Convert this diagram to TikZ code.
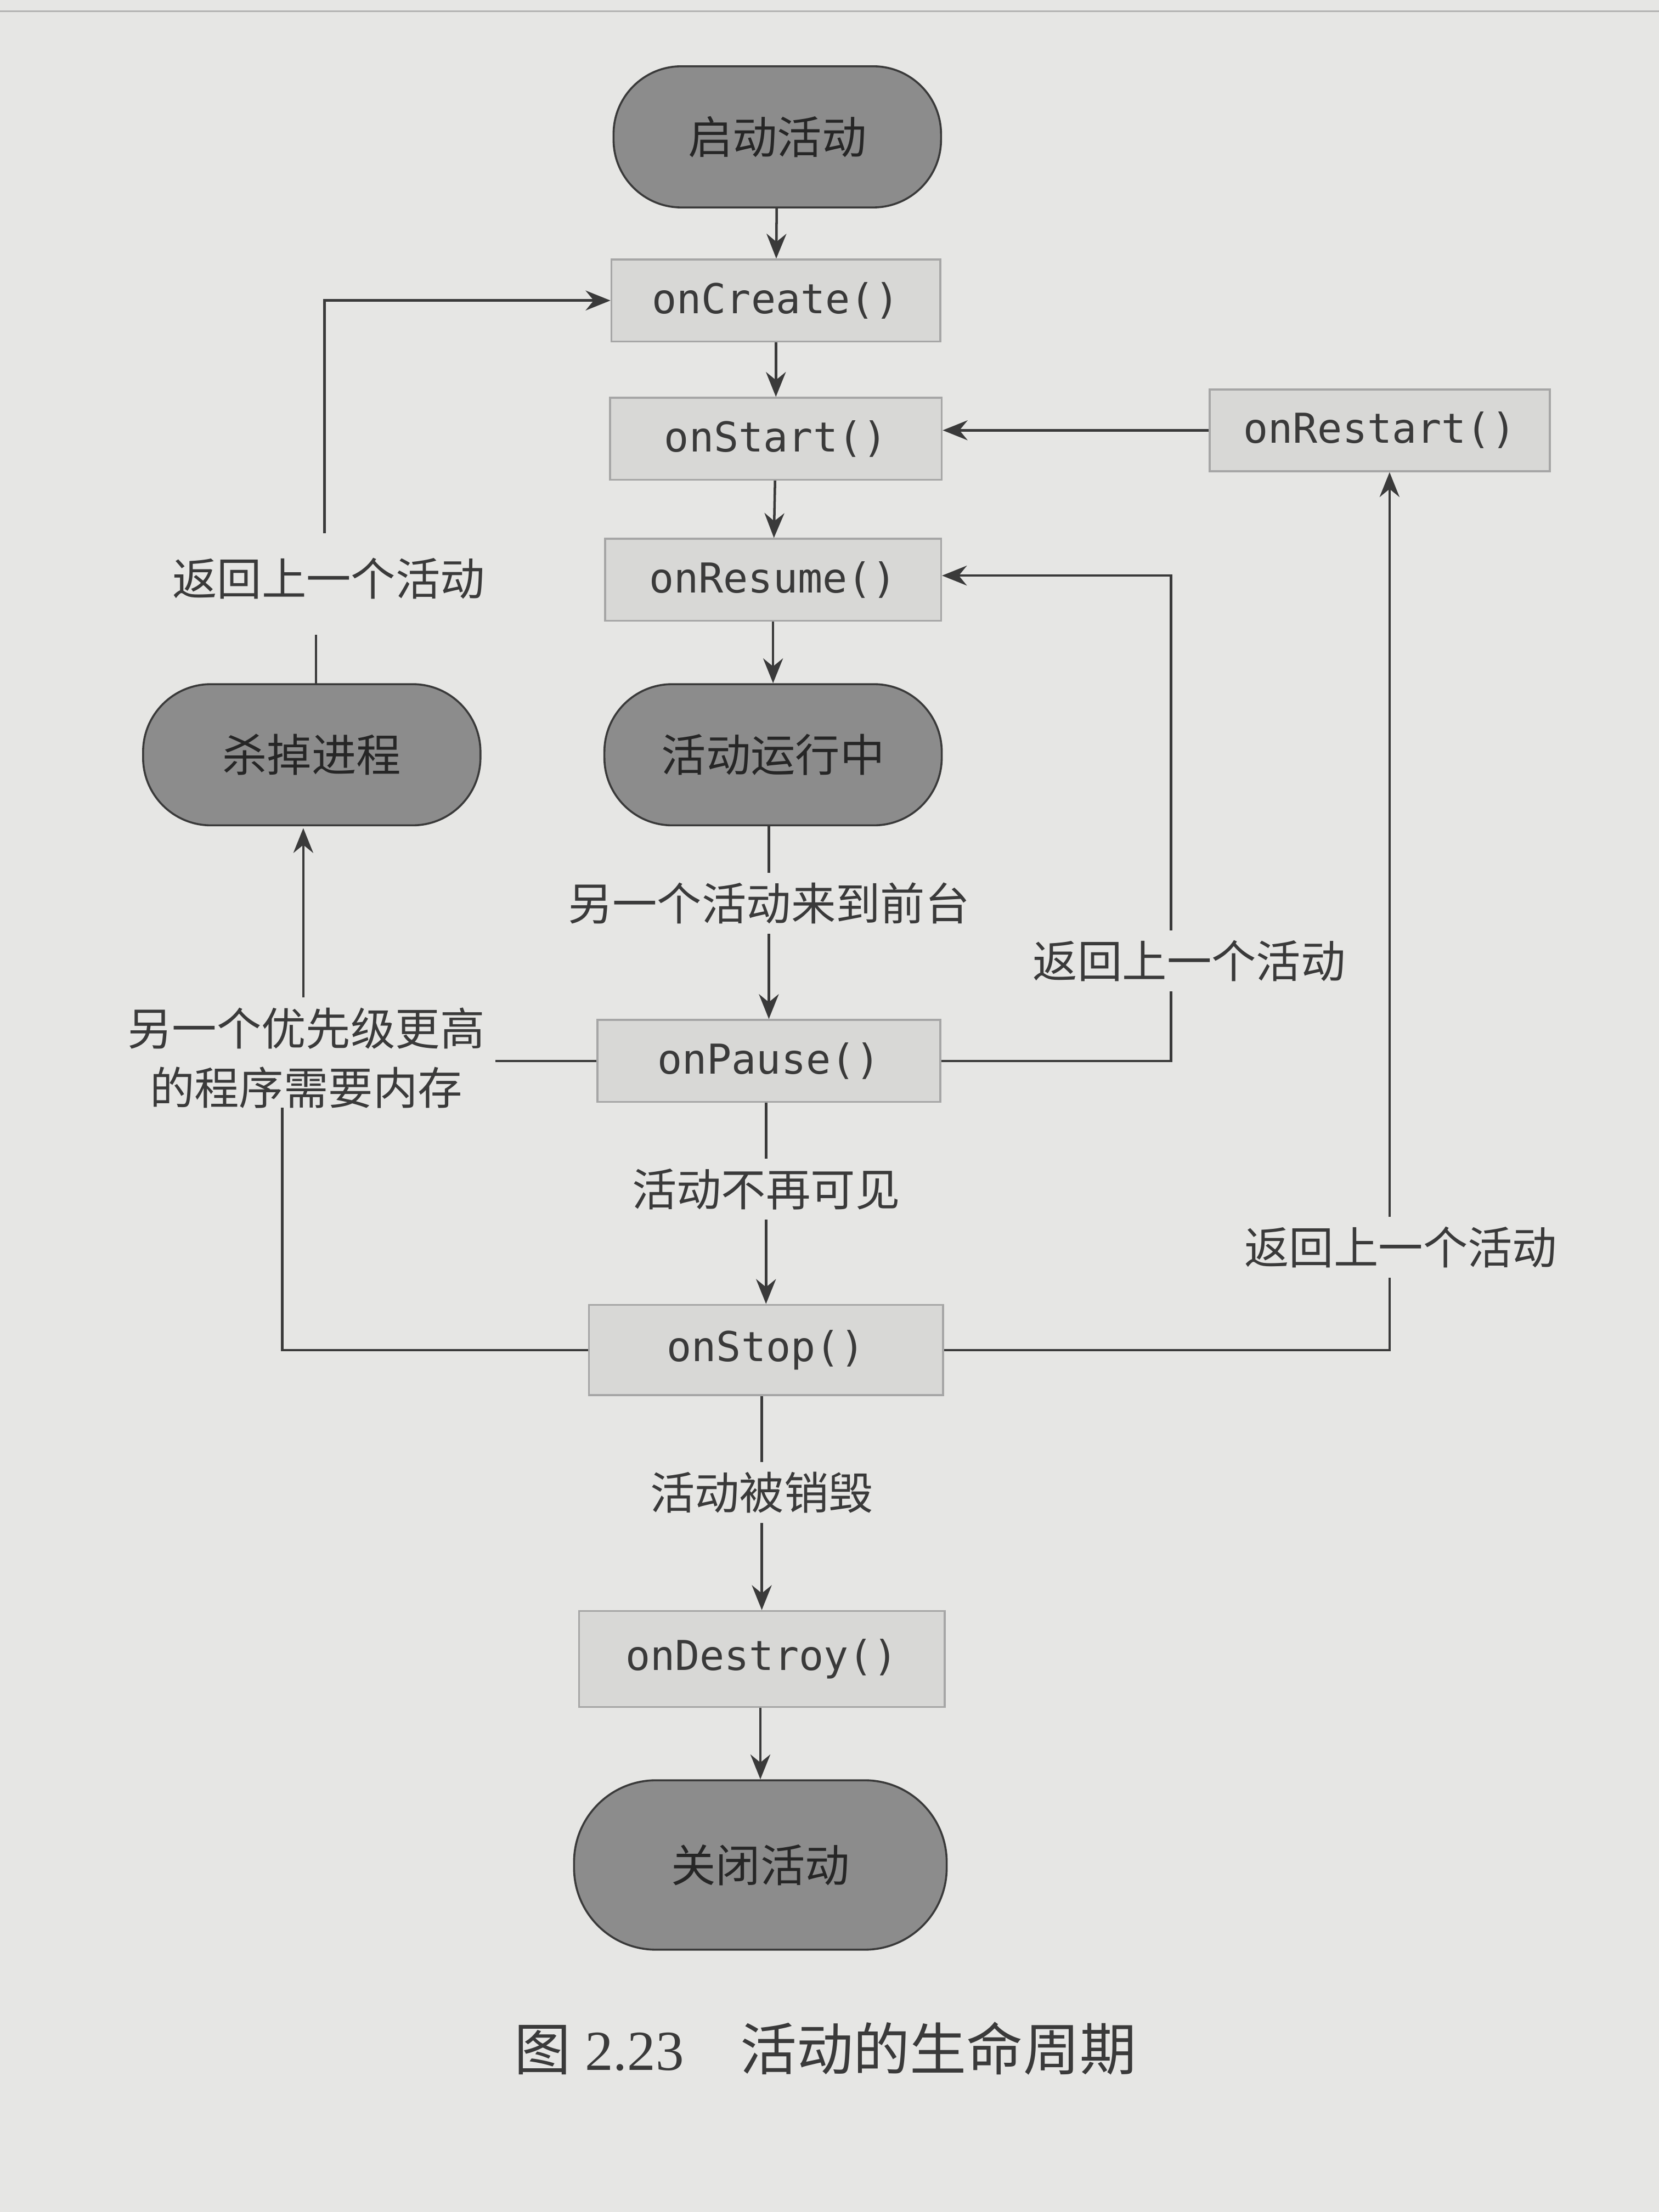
\documentclass[tikz,border=0pt]{standalone}
\usepackage{fontspec}
\setmainfont{Liberation Serif}
\newfontfamily\cjk{Noto Sans CJK SC}
\newfontfamily\code{DejaVu Sans Mono}
\usetikzlibrary{arrows.meta}
\definecolor{paper}{HTML}{E6E6E4}
\definecolor{boxc}{HTML}{D8D8D6}
\definecolor{pillc}{HTML}{8C8C8C}
\definecolor{ink}{HTML}{3A3A3A}
\begin{document}
\begin{tikzpicture}[x=0.01cm,y=-0.01cm,
  box/.style={draw=gray!70,fill=boxc,minimum height=0.58cm,inner sep=0pt,font=\code\fontsize{8.3}{10}\selectfont,text=ink},
  pill/.style={draw=ink,fill=pillc,rounded corners=0.48cm,minimum height=1cm,inner sep=0pt,font=\cjk\fontsize{9}{11}\selectfont,text=black!85},
  lab/.style={fill=paper,inner sep=2pt,font=\cjk\fontsize{9}{12}\selectfont,text=ink,align=center},
  con/.style={draw=ink,line width=0.5pt},
  arr/.style={con,-{Stealth[length=5pt,width=4pt]}}]
\fill[paper] (0,0) rectangle (1176,1568);
\useasboundingbox (0,0) rectangle (1176,1568);
\draw[gray!60] (0,8) -- (1176,8);
\node[pill,minimum width=2.32cm] (start) at (551,97) {启动活动};
\node[box,minimum width=2.33cm] (create) at (550,213) {onCreate()};
\node[box,minimum width=2.35cm] (ostart) at (550,311) {onStart()};
\node[box,minimum width=2.41cm] (restart) at (978,305) {onRestart()};
\node[box,minimum width=2.38cm] (resume) at (548,411) {onResume()};
\node[pill,minimum width=2.39cm] (run) at (548,535) {活动运行中};
\node[pill,minimum width=2.39cm] (kill) at (221,535) {杀掉进程};
\node[box,minimum width=2.43cm] (pause) at (545,752) {onPause()};
\node[box,minimum width=2.51cm,minimum height=0.64cm] (stop) at (543,957) {onStop()};
\node[box,minimum width=2.59cm,minimum height=0.68cm] (destroy) at (540,1176) {onDestroy()};
\node[pill,minimum width=2.64cm,minimum height=1.2cm,rounded corners=0.58cm] (close) at (539,1322) {关闭活动};
\node[font=\fontsize{11.4}{14}\selectfont,text=ink] (cap) at (585,1452) {{\cjk 图} 2.23\quad{\cjk 活动的生命周期}};

\draw[arr] (start) -- (create);
\draw[arr] (create) -- (ostart);
\draw[arr] (ostart) -- (resume);
\draw[arr] (resume) -- (resume|-run.north);
\draw[arr] (run.south-|pause) -- (pause) node[lab,pos=0.4]{另一个活动来到前台};
\draw[arr] (pause.south-|stop) -- (stop) node[lab,pos=0.43]{活动不再可见};
\draw[arr] (stop.south-|destroy) -- (destroy) node[lab,pos=0.45]{活动被销毁};
\draw[arr] (destroy.south-|close) -- (close);
\draw[arr] (restart.west) -- (restart.west-|ostart.east);
\draw[arr] (pause.east) -- (830,752) -- (830,408) -- (resume.east|-0,408);
\node[lab] at (843,681) {返回上一个活动};
\coordinate (rr) at (985,957);
\draw[arr] (stop.east) -- (rr) -- (rr|-restart.south);
\node[lab] at (993,884) {返回上一个活动};
\node[lab,fill=none] (mem) at (217,750) {另一个优先级更高\\的程序需要内存};
\draw[con] (pause.west) -- (mem.east|-pause.west);
\draw[arr] (215,707) -- (215,587);
\draw[con] (stop.west) -- (200,957) -- (200,785);
\node[lab] (back) at (233,410) {返回上一个活动};
\draw[con] (224,485) -- (224,450);
\draw[arr] (230,378) -- (230,213) -- (create.west);
\end{tikzpicture}
\end{document}
